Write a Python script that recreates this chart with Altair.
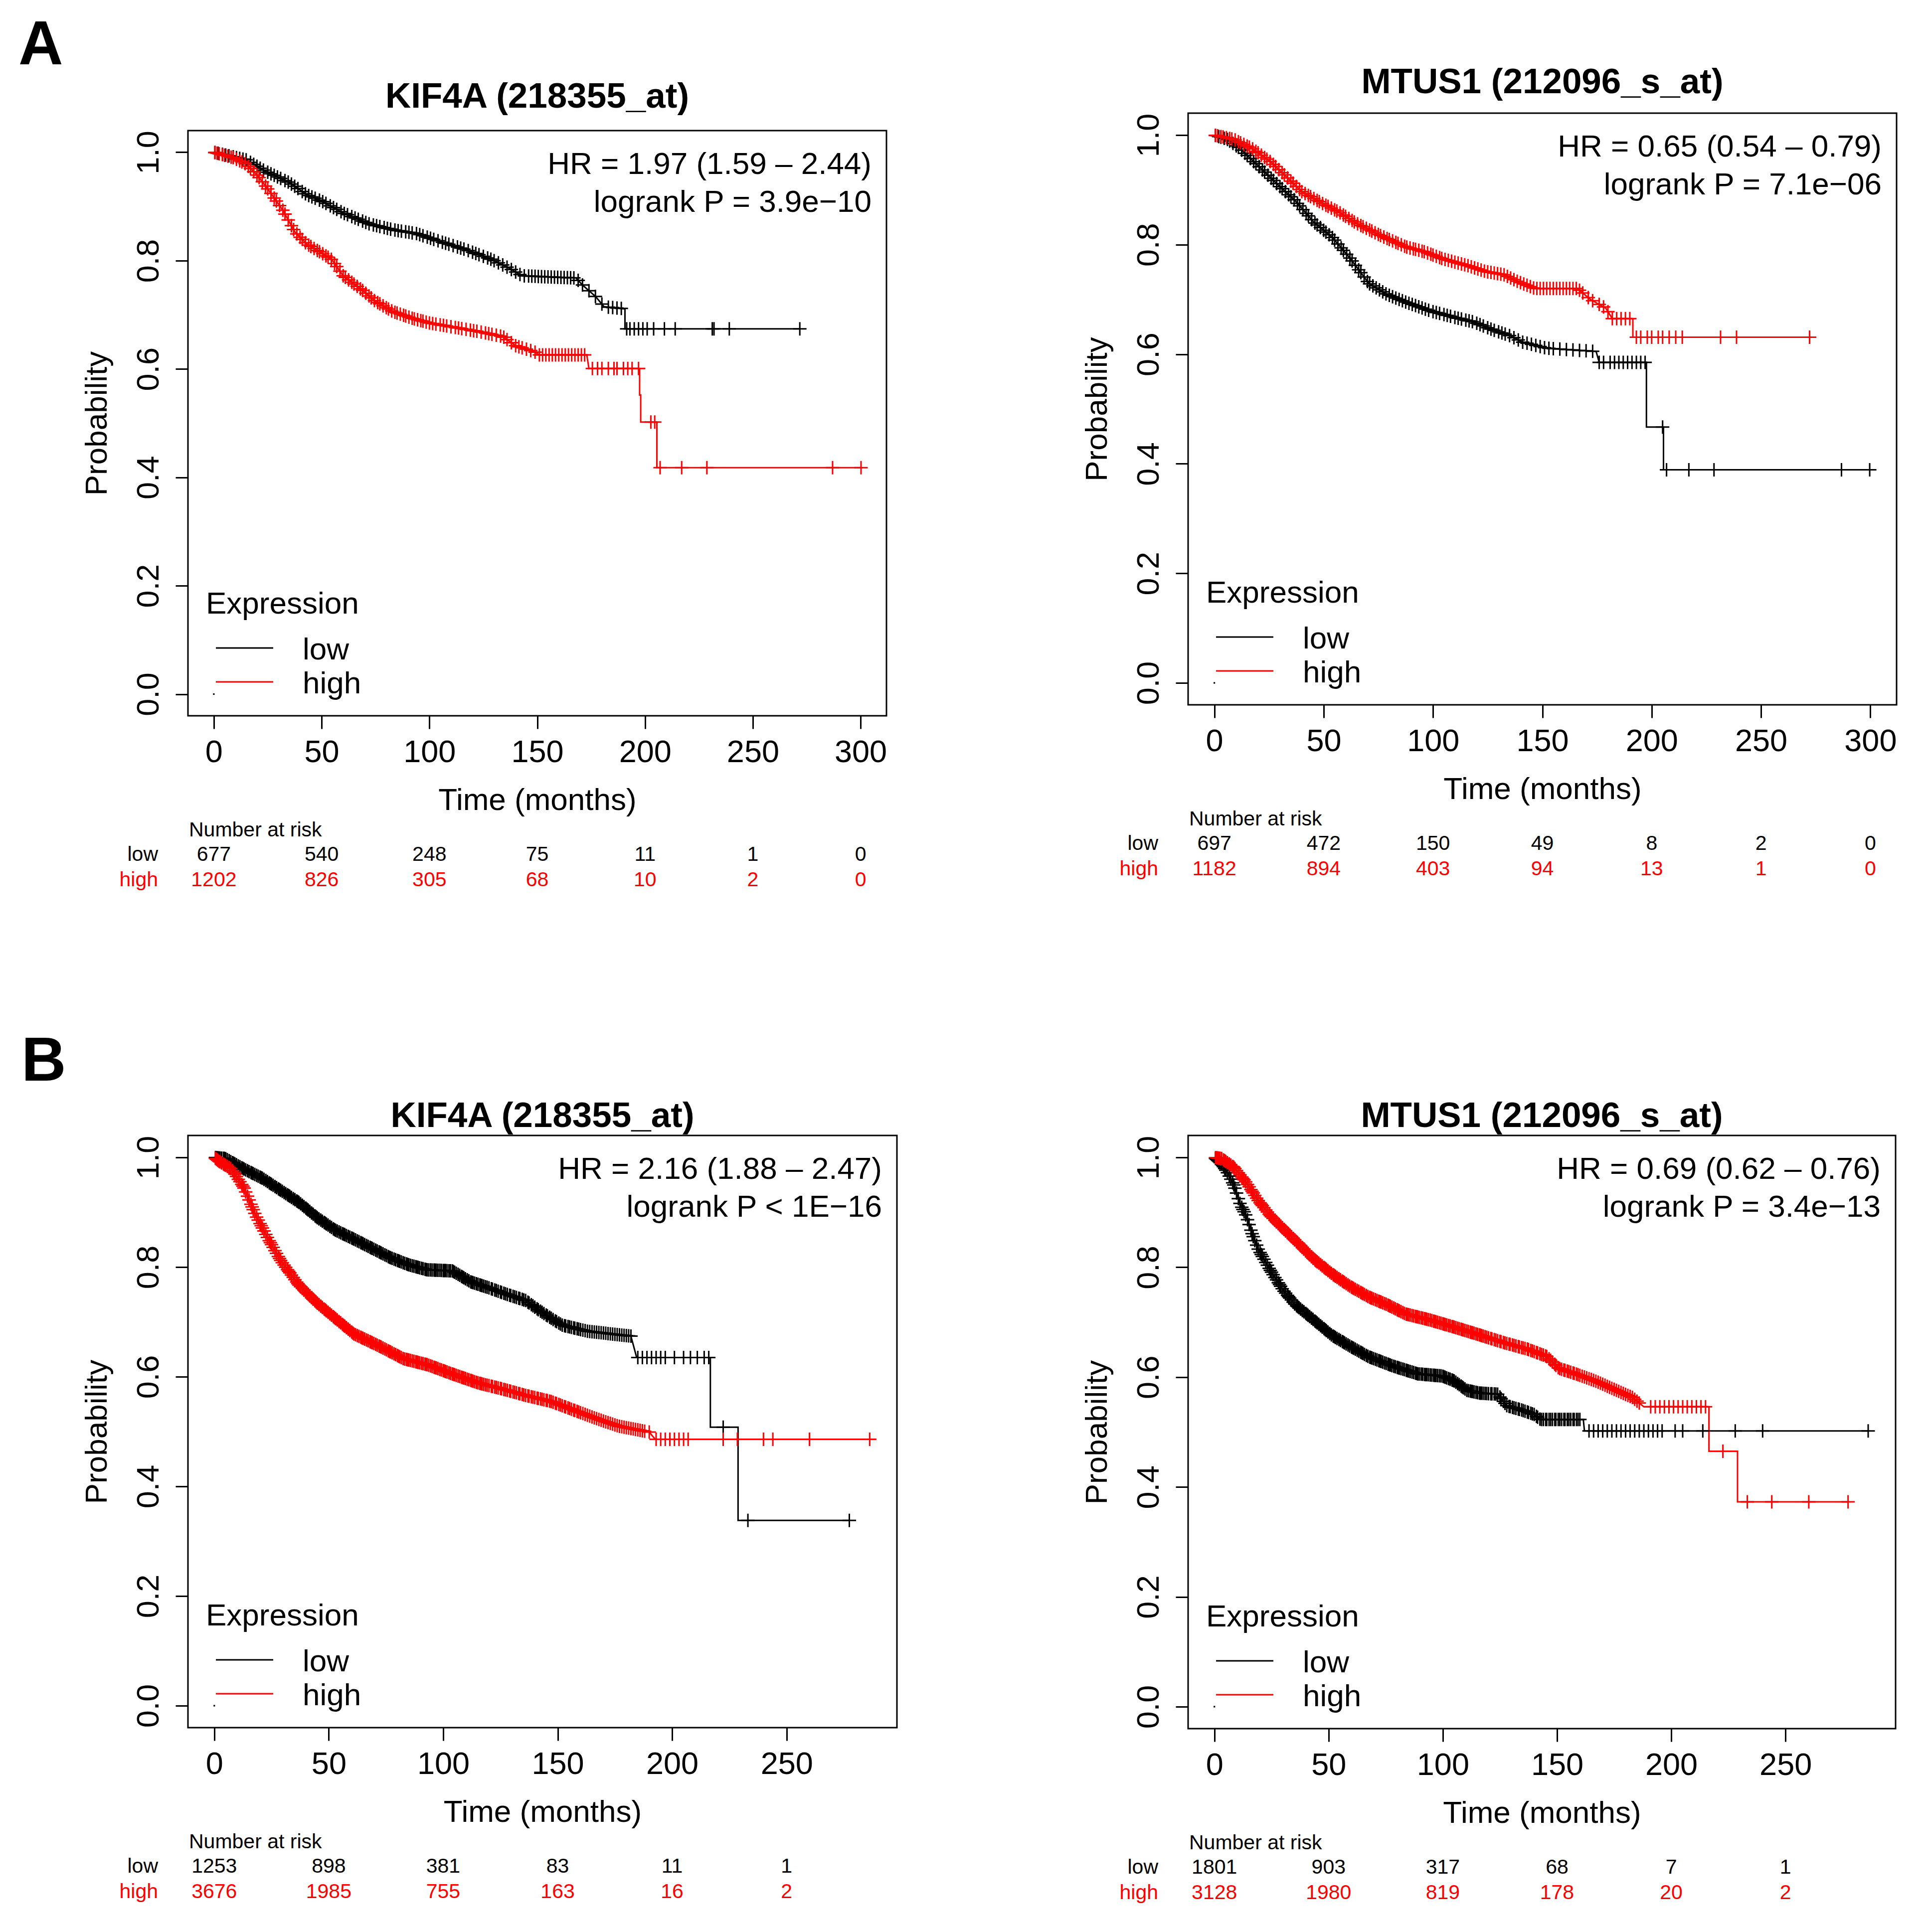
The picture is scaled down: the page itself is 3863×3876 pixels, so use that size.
import altair as alt
import pandas as pd

FONT = "Liberation Sans"
BLACK = "#000000"
RED = "#ff0000"
PLUS = "M-1,0L1,0M0,-1L0,1"

# ---------------- data ----------------
# Panel A, KIF4A
AL_low_t = [0, 15, 23, 35, 43, 50, 60, 72, 83, 94, 100, 106, 117, 129, 137, 143, 168, 171, 177, 181, 190.7, 190.7, 271.8]
AL_low_s = [1.0, 0.986, 0.967, 0.944, 0.922, 0.91, 0.888, 0.868, 0.857, 0.85, 0.842, 0.834, 0.82, 0.802, 0.786, 0.772, 0.768, 0.755, 0.734, 0.715, 0.711, 0.674, 0.674]
AL_high_t = [0, 9, 15, 20.5, 26, 32, 37.6, 43, 50, 54.7, 60, 69, 74.6, 83, 91.7, 100, 111.6, 123, 134, 140, 148.6, 151, 173, 174, 197.5, 197.5, 198, 198, 205.5, 205.5, 300.2]
AL_high_s = [1.0, 0.99, 0.978, 0.956, 0.927, 0.893, 0.853, 0.831, 0.814, 0.802, 0.772, 0.745, 0.726, 0.706, 0.694, 0.685, 0.677, 0.669, 0.66, 0.643, 0.632, 0.626, 0.626, 0.601, 0.601, 0.552, 0.552, 0.502, 0.502, 0.418, 0.418]
AL_low_cens = [0.5, 2, 4, 5.5, 7, 9, 10.5, 12, 13.5, 15, 17, 18.5, 20, 21.5, 23, 25, 26.5, 28, 29.5, 31, 33, 34.5, 36, 37.5, 39, 41, 42.5, 44, 45.5, 47, 49, 50.5, 52, 54, 55.5, 57, 59, 60.5, 62, 64, 65.5, 67, 69, 70.5, 72, 74, 75.5, 77, 79, 80.5, 82, 84, 85.5, 87, 89, 90.5, 92, 94, 95.5, 97, 99, 100.5, 102, 104, 106, 107.5, 109, 111, 113, 114.5, 116, 118, 120, 121.5, 123, 125, 127, 128.5, 130, 132, 134, 136, 138, 140, 142, 144, 146, 147.5, 149, 150.5, 152, 153.5, 155, 156.5, 158, 159.5, 161, 162.5, 164, 165.5, 167, 169, 171, 174, 177, 180, 183, 185, 187, 189, 191.5, 193, 195, 197, 199, 201, 204, 209, 214, 231.2, 232, 239.1, 271.8]
AL_high_cens = [0.5, 1.5, 2.5, 4, 5, 6.5, 8, 9, 10.5, 12, 13, 14.5, 16, 17, 18.5, 20, 21, 22.5, 24, 25, 26.5, 28, 29, 30.5, 32, 33, 34.5, 36, 37, 38.5, 40, 41, 42.5, 44, 45, 46.5, 48, 49, 50.5, 52, 53, 54.5, 56, 57, 58.5, 60, 61, 62.5, 64, 65, 66.5, 68, 69, 70.5, 72, 73, 74.5, 76, 77, 78.5, 80, 81, 82.5, 84, 85, 86.5, 88, 89, 90.5, 92, 93, 94.5, 96, 97, 98.5, 100, 101.5, 103, 105, 106.5, 108, 110, 112, 113.5, 115, 117, 119, 120.5, 122, 124, 126, 127.5, 129, 131, 133, 134.5, 136, 138, 140, 141.5, 143, 145, 147, 149, 151, 152.5, 154, 155.5, 157, 158.5, 160, 161.5, 163, 164.5, 166, 167.5, 169, 170.5, 172, 175.6, 178, 180, 183, 185.6, 187, 190, 192, 194, 197, 202.7, 204.5, 207, 217, 228.7, 287, 300.2]
AL_risk_low = [677, 540, 248, 75, 11, 1, 0]
AL_risk_high = [1202, 826, 305, 68, 10, 2, 0]

# Panel A, MTUS1
AR_low_t = [0, 6, 11.8, 20, 28.6, 37, 45.5, 54, 62.3, 70.7, 79, 87.6, 98.8, 110, 118.4, 127, 135, 141, 152, 174.6, 176, 197.6, 197.6, 205.4, 205.4, 299.7]
AR_low_s = [1.0, 0.992, 0.975, 0.944, 0.911, 0.88, 0.841, 0.813, 0.774, 0.729, 0.709, 0.695, 0.679, 0.667, 0.659, 0.645, 0.634, 0.622, 0.611, 0.605, 0.585, 0.585, 0.467, 0.467, 0.389, 0.389]
AR_high_t = [0, 9, 17.4, 25.8, 34.2, 39.9, 50, 56.7, 65, 76.3, 87.6, 96, 104.5, 115.6, 124, 132.5, 138, 146.5, 166, 172, 179, 182, 191.4, 191.4, 272.2]
AR_high_s = [1.0, 0.992, 0.975, 0.951, 0.919, 0.897, 0.874, 0.86, 0.839, 0.816, 0.796, 0.787, 0.774, 0.762, 0.751, 0.745, 0.734, 0.72, 0.72, 0.70, 0.684, 0.665, 0.665, 0.631, 0.631]
AR_low_cens = [0.5, 2, 3, 4.5, 6, 7, 8.5, 10, 11, 12.5, 14, 15, 16.5, 18, 19, 20.5, 22, 23, 24.5, 26, 27, 28.5, 30, 31, 32.5, 34, 35, 36.5, 38, 39, 40.5, 42, 43, 44.5, 46, 47, 48.5, 50, 51, 52.5, 54, 55, 56.5, 58, 59, 60.5, 62, 63, 64.5, 66, 67, 68.5, 70, 71, 72.5, 74, 75.5, 77, 78.5, 80, 81.5, 83, 84.5, 86, 87.5, 89, 90.5, 92, 93.5, 95, 96.5, 98, 100, 101.5, 103, 105, 106.5, 108, 110, 111.5, 113, 115, 116.5, 118, 120, 121.5, 123, 125, 126.5, 128, 130, 131.5, 133, 135, 137, 139, 141, 143, 145, 147, 149, 151, 153, 155, 158, 161, 164, 167, 170, 173, 176, 178, 181, 183, 185, 187, 189, 191, 193, 195, 197, 205, 206.8, 217, 228.5, 286.8, 299.7]
AR_high_cens = [0.5, 1.5, 3, 4, 5.5, 7, 8, 9.5, 11, 12, 13.5, 15, 16, 17.5, 19, 20, 21.5, 23, 24, 25.5, 27, 28, 29.5, 31, 32, 33.5, 35, 36, 37.5, 39, 40, 41.5, 43, 44, 45.5, 47, 48, 49.5, 51, 52, 53.5, 55, 56, 57.5, 59, 60, 61.5, 63, 64, 65.5, 67, 68, 69.5, 71, 72, 73.5, 75, 76, 77.5, 79, 80, 81.5, 83, 84, 85.5, 87, 88, 89.5, 91, 92, 93.5, 95, 96, 97.5, 99, 100, 101.5, 103, 104, 105.5, 107, 108.5, 110, 111.5, 113, 114.5, 116, 117.5, 119, 120.5, 122, 123.5, 125, 126.5, 128, 129.5, 131, 132.5, 134, 135.5, 137, 138.5, 140, 141.5, 143, 144.5, 146, 147.5, 149, 150.5, 152, 153.5, 155, 156.5, 158, 159.5, 161, 162.5, 164, 165.5, 167, 168.5, 171, 173, 176, 178, 180, 182, 184, 186, 188, 190, 193, 195, 198, 200, 203, 205, 208, 211, 214, 231.5, 238.8, 272.2]
AR_risk_low = [697, 472, 150, 49, 8, 2, 0]
AR_risk_high = [1182, 894, 403, 94, 13, 1, 0]

# Panel B, KIF4A
BL_low_t = [0, 4.8, 12.9, 21, 29, 37, 45, 53, 61, 69, 77, 85, 93, 104, 112, 120, 128, 136, 141.6, 147, 152, 163, 182, 184.5, 216.7, 216.7, 228.8, 228.8, 277.4]
BL_low_s = [1.0, 0.998, 0.979, 0.962, 0.94, 0.918, 0.89, 0.867, 0.851, 0.834, 0.817, 0.804, 0.795, 0.793, 0.773, 0.762, 0.75, 0.739, 0.722, 0.707, 0.694, 0.683, 0.674, 0.635, 0.635, 0.508, 0.508, 0.338, 0.338]
BL_high_t = [0, 2, 7.5, 12.9, 18, 23.6, 29, 37, 45, 53, 61, 72, 82.6, 93, 104, 115, 125.5, 136, 147, 157.7, 168, 176.5, 190, 192.6, 286.3]
BL_high_s = [1.0, 0.993, 0.979, 0.945, 0.895, 0.851, 0.812, 0.767, 0.734, 0.706, 0.678, 0.656, 0.633, 0.622, 0.605, 0.589, 0.578, 0.566, 0.555, 0.538, 0.522, 0.51, 0.499, 0.486, 0.486]
BL_risk_low = [1253, 898, 381, 83, 11, 1]
BL_risk_high = [3676, 1985, 755, 163, 16, 2]

# Panel B, MTUS1
BR_low_t = [0, 3.2, 5.9, 8.6, 11.3, 14, 16.6, 19.3, 24.7, 30, 35.4, 43.5, 51.5, 59.5, 67.6, 78.3, 89, 99.8, 105, 110.5, 115.9, 124, 128, 134.6, 140, 142.7, 161.5, 162, 286.2]
BR_low_s = [1.0, 0.988, 0.971, 0.949, 0.915, 0.893, 0.86, 0.832, 0.793, 0.759, 0.732, 0.704, 0.676, 0.656, 0.637, 0.62, 0.606, 0.602, 0.593, 0.576, 0.571, 0.569, 0.548, 0.54, 0.532, 0.523, 0.523, 0.502, 0.502]
BR_high_t = [0, 3.2, 8.6, 14, 19.3, 24.7, 30, 35.4, 43.5, 51.5, 59.5, 67.6, 75.6, 83.7, 94.4, 105, 115.9, 126.6, 137, 145.4, 150.8, 158.8, 166.8, 174.9, 183, 188, 216.5, 216.5, 229, 229, 277.4]
BR_high_s = [1.0, 0.998, 0.982, 0.954, 0.921, 0.893, 0.871, 0.849, 0.815, 0.788, 0.765, 0.746, 0.732, 0.715, 0.704, 0.691, 0.677, 0.663, 0.651, 0.638, 0.616, 0.605, 0.593, 0.578, 0.563, 0.546, 0.546, 0.465, 0.465, 0.373, 0.373]
BR_risk_low = [1801, 903, 317, 68, 7, 1]
BR_risk_high = [3128, 1980, 819, 178, 20, 2]

# dense censoring times (estimated) shared by the panel-B curves, cut at each curve's dense end
B_dense_cens = [0.5, 1.5, 2.5, 4, 5, 6.5, 8, 9, 10.5, 12, 13, 14.5, 16, 17, 18.5, 20, 21, 22.5, 24, 25, 26.5, 28, 29, 30.5, 32, 33, 34.5, 36, 37, 38.5, 40, 41, 42.5, 44, 45, 46.5, 48, 49, 50.5, 52, 53, 54.5, 56, 57, 58.5, 60, 61, 62.5, 64, 65, 66.5, 68, 69, 70.5, 72, 73, 74.5, 76, 77, 78.5, 80, 81, 82.5, 84, 85, 86.5, 88, 89, 90.5, 92, 93, 94.5, 96, 97, 98.5, 100, 101, 102.5, 104, 105, 106.5, 108, 109, 110.5, 112, 113, 114.5, 116, 117, 118.5, 120, 121, 122.5, 124, 125, 126.5, 128, 129, 130.5, 132, 133, 134.5, 136, 137, 138.5, 140, 141, 142.5, 144, 145, 146.5, 148, 149, 150.5, 152, 153, 154.5, 156, 157, 158.5, 160, 162, 164, 166, 168, 170, 172, 174, 176, 178, 180, 182, 184, 186, 188]
B_dense_cens2 = [1, 2, 3.2, 4.5, 5.7, 7.2, 8.5, 9.7, 11.2, 12.5, 13.7, 15.2, 16.5, 17.7, 19.2, 20.5, 21.7, 23.2, 24.5, 25.7, 27.2, 28.5, 29.7, 31.2, 32.5, 33.7, 35.2, 36.5, 37.7, 39.2, 40.5, 41.7, 43.2, 44.5, 45.7, 47.2, 48.5, 49.7, 51.2, 52.5, 53.7, 55.2, 56.5, 57.7, 59.2, 60.5, 61.7, 63.2, 64.5, 65.7, 67.2, 68.5, 69.7, 71.2, 72.5, 73.7, 75.2, 76.5, 77.7, 79.2, 80.5, 81.7, 83.2, 84.5, 85.7, 87.2, 88.5, 89.7, 91.2, 92.5, 93.7, 95.2, 96.5, 97.7, 99.2, 100.5, 101.7, 103.2, 104.5, 105.7, 107.2, 108.5, 109.7, 111.2, 112.5, 113.7, 115.2, 116.5, 117.7, 119.2, 121.5, 123.2, 125.5, 127.2, 129.5, 131.2, 133.5, 135.2, 137.5, 139.2, 141.5, 143.2, 145.5, 147.2, 149.5, 151.2, 153.5, 155.2, 157.5, 159.2, 161, 163, 165, 167, 169, 171, 173, 175, 177, 179, 181, 183, 185, 187]
B_dense = sorted(B_dense_cens + B_dense_cens2)
BL_low_cens = [c for c in B_dense if c <= 182] + [185, 187, 189, 191, 193, 195, 197, 201, 205, 208, 211, 214, 216, 222.3, 233.1, 277.4]
BL_high_cens = [c for c in B_dense if c <= 188] + [190, 193, 195, 197, 199, 201, 203, 205, 207, 222.3, 228.5, 239.9, 244, 260, 286.3]
BR_low_cens = [c for c in B_dense if c <= 160] + [164, 166, 168, 170, 172, 174, 176, 178, 180, 182, 184, 186, 188, 190, 192, 194, 196, 201.7, 205, 213.8, 228, 240, 286.2]
BR_high_cens = [c for c in B_dense if c <= 186] + [191, 193, 195, 197, 199, 201, 203, 205, 207, 209, 211, 213, 215, 222.6, 233.3, 244, 260.2, 277.4]

risk_times_A = [0, 50, 100, 150, 200, 250, 300]
risk_times_B = [0, 50, 100, 150, 200, 250]
ticks_A = [0, 50, 100, 150, 200, 250, 300]
ticks_B = [0, 50, 100, 150, 200, 250]
y_ticks = [0.0, 0.2, 0.4, 0.6, 0.8, 1.0]


# ---------------- helpers ----------------
def curve_table(t, s, group):
    return pd.DataFrame({"time": t, "surv": s, "group": group, "i": list(range(len(t)))})


def censor_table(cens, t, s, group):
    rows = []
    for c in cens:
        idx = max(j for j in range(len(t)) if t[j] <= c)
        if idx < len(t) - 1 and t[idx + 1] > t[idx]:
            y = s[idx] + (s[idx + 1] - s[idx]) * (c - t[idx]) / (t[idx + 1] - t[idx])
        else:
            y = s[idx]
        rows.append({"time": c, "surv": y, "group": group})
    return pd.DataFrame(rows)


def one(**kw):
    return pd.DataFrame({k: [v] for k, v in kw.items()})


def txt(label, x, y, align="left", size=62, color=BLACK, weight="normal"):
    return alt.Chart(one(label=label)).mark_text(
        align=align, baseline="alphabetic", fontSize=size, color=color, fontWeight=weight
    ).encode(x=alt.value(x), y=alt.value(y), text="label:N")


def panel(title, hr1, hr2, lt, ls, ht, hs, lc, hc, rt, rl, rh, xdom, xticks, W, BH, top, tgap):
    H = top + BH  # group height; the plot box occupies [top, H]
    xs = alt.Scale(domain=xdom, nice=False, zero=False)
    ys = alt.Scale(domain=[-0.04, 1.04], nice=False, zero=False, range=[H, top])
    xaxis = alt.Axis(values=xticks, grid=False, domain=False, tickSize=26, tickWidth=3,
                     tickColor=BLACK, labelFontSize=63, labelColor=BLACK, labelBaseline="alphabetic",
                     labelPadding=66, labelFlush=False, labelOverlap=False,
                     title="Time (months)", titleFontSize=62, titleFontWeight="normal",
                     titleColor=BLACK, titleX=W / 2, titleY=188, titleAlign="center",
                     titleBaseline="alphabetic")
    yaxis = alt.Axis(values=y_ticks, format=".1f", grid=False, domain=False, tickSize=25,
                     tickWidth=3, tickColor=BLACK, labelFontSize=63, labelColor=BLACK,
                     labelAngle=270, labelAlign="center", labelBaseline="alphabetic",
                     labelPadding=35, labelFlush=False, labelOverlap=False,
                     title="Probability", titleFontSize=62, titleFontWeight="normal",
                     titleColor=BLACK, titleAngle=270, titleX=-164, titleY=top + BH / 2,
                     titleAlign="center", titleBaseline="alphabetic")
    X = alt.X("time:Q", scale=xs, axis=xaxis)
    Y = alt.Y("surv:Q", scale=ys, axis=yaxis)
    color = alt.Color("group:N", scale=alt.Scale(domain=["low", "high"], range=[BLACK, RED]), legend=None)

    curves = pd.concat([curve_table(lt, ls, "low"), curve_table(ht, hs, "high")])
    cens = pd.concat([censor_table(lc, lt, ls, "low"), censor_table(hc, ht, hs, "high")])

    box = alt.Chart(one(k=1)).mark_rect(filled=False, stroke=BLACK, strokeWidth=3).encode(
        x=alt.value(0), x2=alt.value(W), y=alt.value(top), y2=alt.value(H))
    lines = alt.Chart(curves).mark_line(strokeWidth=3).encode(x=X, y=Y, color=color, order="i:Q")
    marks = alt.Chart(cens).mark_point(shape=PLUS, filled=False, size=729, strokeWidth=3,
                                       opacity=1).encode(x=X, y=Y, color=color)
    dot = alt.Chart(one(time=0, surv=0.0)).mark_square(size=10, color=BLACK, opacity=1).encode(x=X, y=Y)

    ttl = txt(title, W / 2, top - tgap, align="center", size=71, weight="bold")
    hr_a = txt(hr1, W - 30, top + 87, align="right")
    hr_b = txt(hr2, W - 30, top + 163, align="right")
    leg_title = txt("Expression", 36, H - 205)
    leg_low = txt("low", 230, H - 113)
    leg_high = txt("high", 230, H - 45)
    leg_line_low = alt.Chart(one(k=1)).mark_rule(strokeWidth=3, color=BLACK).encode(
        x=alt.value(56), x2=alt.value(171), y=alt.value(H - 136))
    leg_line_high = alt.Chart(one(k=1)).mark_rule(strokeWidth=3, color=RED).encode(
        x=alt.value(56), x2=alt.value(171), y=alt.value(H - 68))

    risk_head = txt("Number at risk", 2, H + 242, size=41)
    risk_lab_low = txt("low", -60, H + 291, align="right", size=41)
    risk_lab_high = txt("high", -60, H + 342, align="right", size=41, color=RED)
    risk_low = alt.Chart(pd.DataFrame({"time": rt, "n": rl})).mark_text(
        align="center", baseline="alphabetic", fontSize=41, color=BLACK
    ).encode(x=X, y=alt.value(H + 291), text="n:Q")
    risk_high = alt.Chart(pd.DataFrame({"time": rt, "n": rh})).mark_text(
        align="center", baseline="alphabetic", fontSize=41, color=RED
    ).encode(x=X, y=alt.value(H + 342), text="n:Q")

    return alt.layer(
        box, lines, marks, dot, ttl, hr_a, hr_b, leg_title, leg_low, leg_high,
        leg_line_low, leg_line_high, risk_head, risk_lab_low, risk_lab_high, risk_low, risk_high
    ).properties(width=W, height=H)


def letter(label, W, H, x, y):
    return alt.Chart(one(label=label)).mark_text(
        align="left", baseline="alphabetic", fontSize=124, fontWeight="bold", color=BLACK
    ).encode(x=alt.value(x), y=alt.value(y), text="label:N").properties(width=W, height=H)


dom_A = [-12, 312]
dom_B = [-11.5, 298.2]

pAL = panel("KIF4A (218355_at)", "HR = 1.97 (1.59 \u2013 2.44)", "logrank P = 3.9e\u221210",
            AL_low_t, AL_low_s, AL_high_t, AL_high_s, AL_low_cens, AL_high_cens,
            risk_times_A, AL_risk_low, AL_risk_high, dom_A, ticks_A, 1401, 1174, 35, 46)
pAR = panel("MTUS1 (212096_s_at)", "HR = 0.65 (0.54 \u2013 0.79)", "logrank P = 7.1e\u221206",
            AR_low_t, AR_low_s, AR_high_t, AR_high_s, AR_low_cens, AR_high_cens,
            risk_times_A, AR_risk_low, AR_risk_high, dom_A, ticks_A, 1421, 1187, 0, 40)
pBL = panel("KIF4A (218355_at)", "HR = 2.16 (1.88 \u2013 2.47)", "logrank P < 1E\u221216",
            BL_low_t, BL_low_s, BL_high_t, BL_high_s, BL_low_cens, BL_high_cens,
            risk_times_B, BL_risk_low, BL_risk_high, dom_B, ticks_B, 1422, 1188, 0, 17)
pBR = panel("MTUS1 (212096_s_at)", "HR = 0.69 (0.62 \u2013 0.76)", "logrank P = 3.4e\u221213",
            BR_low_t, BR_low_s, BR_high_t, BR_high_s, BR_low_cens, BR_high_cens,
            risk_times_B, BR_risk_low, BR_risk_high, dom_B, ticks_B, 1419, 1190, 0, 17)

items = [
    letter("A", 1401, 219, -340, 121), letter("", 1421, 219, 0, 121),
    pAL, pAR,
    letter("B", 1422, 842, -334, 732), letter("", 1419, 842, 0, 732),
    pBL, pBR,
]

chart = alt.concat(
    *items, columns=2, spacing={"row": 0, "column": 584}, bounds="flush", align="each",
).properties(
    padding={"left": 29, "top": 0, "right": 20, "bottom": 20}
).configure(font=FONT, background="white").configure_view(strokeWidth=0)

chart.save("out.html", embed_options={"renderer": "svg", "actions": False})
